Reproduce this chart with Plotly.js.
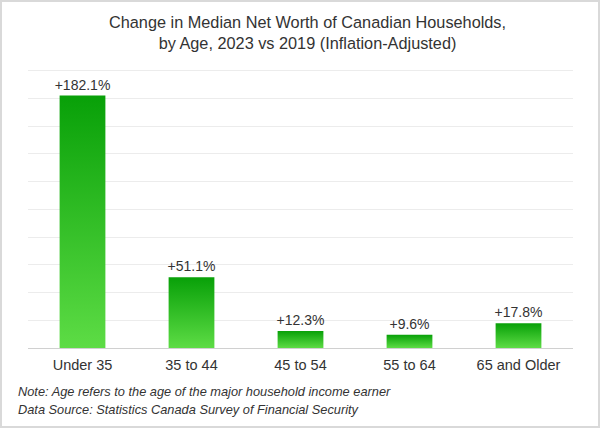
<!DOCTYPE html>
<html>
<head>
<meta charset="utf-8">
<script src="https://cdn.plot.ly/plotly-3.0.1.min.js"></script>
<style>
  html, body { margin: 0; padding: 0; background: #fff; }
  #wrap { position: relative; width: 600px; height: 428px; }
  #chart { width: 600px; height: 428px; }
  #frame { position: absolute; left: 0; top: 0; width: 596px; height: 424px;
           border: 2px solid #d9d9d9; pointer-events: none; }
</style>
</head>
<body>
<div id="wrap">
  <div id="chart"></div>
  <div id="frame"></div>
</div>
<script>
const ageGroups = ['Under 35', '35 to 44', '45 to 54', '55 to 64', '65 and Older'];
const changePct = [182.1, 51.1, 12.3, 9.6, 17.8];
const labels = changePct.map(v => '+' + v.toFixed(1) + '%');

const font = 'Liberation Sans, Arial, sans-serif';

const trace = {
  type: 'bar',
  x: ageGroups,
  y: changePct,
  text: labels,
  textposition: 'outside',
  constraintext: 'none',
  cliponaxis: false,
  textfont: { family: font, size: 14, color: '#333' },
  marker: { color: '#2fbf2a', line: { width: 0 } },
  hoverinfo: 'none'
};

const layout = {
  width: 600,
  height: 428,
  margin: { l: 28, r: 27, t: 68, b: 80 },
  paper_bgcolor: '#fff',
  plot_bgcolor: '#fff',
  showlegend: false,
  bargap: 0.58,
  xaxis: {
    showgrid: false,
    showline: true,
    linecolor: '#d0d0d0',
    linewidth: 1,
    ticks: '',
    ticklabelstandoff: 4,
    tickfont: { family: font, size: 14.5, color: '#333' },
    fixedrange: true
  },
  yaxis: {
    range: [0, 202],
    dtick: 20,
    showticklabels: false,
    showgrid: true,
    gridcolor: '#ececec',
    zeroline: false,
    fixedrange: true
  },
  annotations: [
    {
      text: 'Change in Median Net Worth of Canadian Households,<br>by Age, 2023 vs 2019 (Inflation-Adjusted)',
      xref: 'paper', yref: 'paper', x: 0.512, y: 1.128,
      xanchor: 'center', yanchor: 'middle', showarrow: false,
      font: { family: font, size: 16.3, color: '#333' }
    },
    {
      text: '<i>Note: Age refers to the age of the major household income earner</i>',
      xref: 'paper', yref: 'paper', x: -0.022, y: -0.155,
      xanchor: 'left', yanchor: 'middle', showarrow: false,
      font: { family: font, size: 12.8, color: '#333' }
    },
    {
      text: '<i>Data Source: Statistics Canada Survey of Financial Security</i>',
      xref: 'paper', yref: 'paper', x: -0.022, y: -0.22,
      xanchor: 'left', yanchor: 'middle', showarrow: false,
      font: { family: font, size: 12.8, color: '#333' }
    }
  ]
};

Plotly.newPlot('chart', [trace], layout, { displayModeBar: false, staticPlot: true }).then(gd => {
  // vertical green gradient on the bars
  const svg = gd.querySelector('svg.main-svg');
  const ns = 'http://www.w3.org/2000/svg';
  let defs = svg.querySelector('defs');
  if (!defs) { defs = document.createElementNS(ns, 'defs'); svg.insertBefore(defs, svg.firstChild); }
  const grad = document.createElementNS(ns, 'linearGradient');
  grad.setAttribute('id', 'barGrad');
  grad.setAttribute('x1', '0'); grad.setAttribute('y1', '0');
  grad.setAttribute('x2', '0'); grad.setAttribute('y2', '1');
  [['0%', '#08a008'], ['100%', '#5ddc45']].forEach(([o, c]) => {
    const s = document.createElementNS(ns, 'stop');
    s.setAttribute('offset', o);
    s.setAttribute('stop-color', c);
    grad.appendChild(s);
  });
  defs.appendChild(grad);
  gd.querySelectorAll('.bars .point path').forEach(p => {
    p.style.fill = 'url(#barGrad)';
  });
});
</script>
</body>
</html>
